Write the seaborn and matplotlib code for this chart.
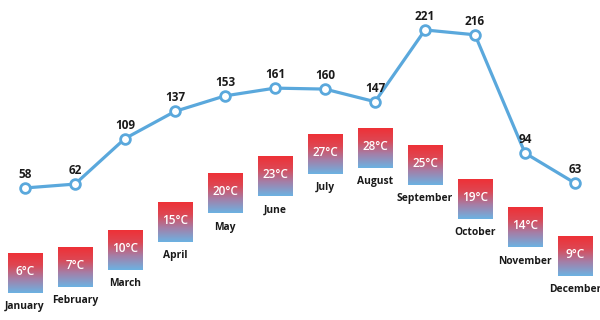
import numpy as np
import pandas as pd
import matplotlib
matplotlib.use("Agg")
import matplotlib.pyplot as plt
from matplotlib.colors import LinearSegmentedColormap
import seaborn as sns

months = ["January", "February", "March", "April", "May", "June",
          "July", "August", "September", "October", "November", "December"]
counts = [58, 62, 109, 137, 153, 161, 160, 147, 221, 216, 94, 63]
temps = [6, 7, 10, 15, 20, 23, 27, 28, 25, 19, 14, 9]

sns.set_theme(style="white")
plt.rcParams["font.family"] = ["Open Sans", "DejaVu Sans"]

df = pd.DataFrame({"idx": np.arange(len(months)), "count": counts})

fig = plt.figure(figsize=(6, 3.2), dpi=100)
ax = fig.add_axes([0, 0, 1, 1])
ax2 = ax.twinx()
ax.set_zorder(2)
ax.patch.set_visible(False)

line_color = "#5aa8dc"
sns.lineplot(data=df, x="idx", y="count", ax=ax, color=line_color, linewidth=2.3,
             marker="o", markersize=7, markerfacecolor="white",
             markeredgecolor=line_color, markeredgewidth=2)
for i, v in enumerate(counts):
    ax.annotate(str(v), (i, v), xytext=(0, 5), textcoords="offset points",
                ha="center", va="bottom", fontsize=8.5, fontweight="bold", color="#1a1a1a")

cmap = LinearSegmentedColormap.from_list(
    "rb", [(0.0, "#6cb2e2"), (0.35, "#a47fa8"), (0.7, "#de4652"), (1.0, "#ee3137")])
grad = np.linspace(0, 1, 100).reshape(-1, 1)
box_h = 7.0
box_w = 0.35
for i, (m, t) in enumerate(zip(months, temps)):
    ax2.imshow(grad, extent=[i - box_w, i + box_w, t - box_h, t], origin="lower",
               aspect="auto", cmap=cmap, interpolation="bilinear")
    ax2.text(i, t - box_h / 2 + 0.3, f"{t}°C", ha="center", va="center",
             fontsize=8.5, fontweight="semibold", color="white")
    ax2.annotate(m, (i, t - box_h), xytext=(0, -6), textcoords="offset points",
                 ha="center", va="top", fontsize=7.4, fontweight="bold", color="#1a1a1a")

ax.set_xlim(-0.5, 11.5)
ax.set_ylim(-78.2, 251.9)
ax2.set_ylim(-5.8, 50.6)
ax2.set_xlim(-0.5, 11.5)
for a in (ax, ax2):
    a.set_axis_off()

fig.savefig("out.png", dpi=100)
